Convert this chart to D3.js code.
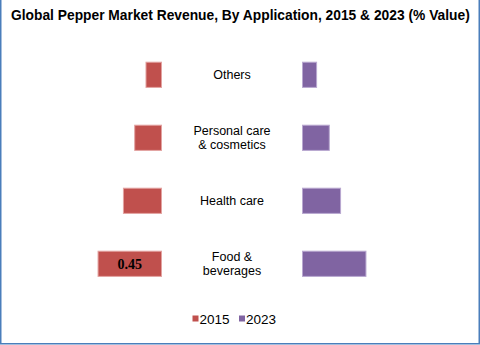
<!DOCTYPE html>
<html>
<head>
<meta charset="utf-8">
<script src="https://cdn.jsdelivr.net/npm/d3@7"></script>
<style>
html,body{margin:0;padding:0;background:#fff;}
svg{display:block;font-family:Arial,"Liberation Sans",sans-serif;}
</style>
</head>
<body>
<svg id="chart" width="480" height="345"></svg>
<script>
const categories = ["Others", "Personal care\n& cosmetics", "Health care", "Food &\nbeverages"];
const values2015 = [0.11, 0.19, 0.27, 0.45];
const values2023 = [0.10, 0.19, 0.27, 0.45];
const seriesNames = ["2015", "2023"];
const dataLabels2015 = [null, null, null, "0.45"];

const colors = {"2015": "#C0504D", "2023": "#8064A2"};
const strokes = {"2015": "#E3A3A1", "2023": "#B9A8D0"};

const svg = d3.select("#chart");
const W = 480, H = 345;

// border
svg.append("path")
  .attr("d", `M0.75,0 V${H-1.25} H${W-0.75} V0`)
  .attr("fill", "none").attr("stroke", "#4A7EBB").attr("stroke-width", 1.5);

svg.append("text")
  .attr("x", 11).attr("y", 19.5)
  .attr("font-size", "13.8px").attr("font-weight", "bold").attr("fill", "#000")
  .text("Global Pepper Market Revenue, By Application, 2015 & 2023 (% Value)");

const y = d3.scaleBand().domain(categories).range([49.6, 289]).paddingInner(0.6).paddingOuter(0.2);
const leftEnd = 161.5, rightStart = 302.5;
const xLen = d3.scaleLinear().domain([0, 0.5]).range([0, 70.5]);

const rows = categories.map((c, i) => ({c, v15: values2015[i], v23: values2023[i], lab: dataLabels2015[i]}));

svg.selectAll("rect.b15").data(rows).join("rect")
  .attr("class", "b15")
  .attr("x", d => leftEnd - xLen(d.v15))
  .attr("y", d => y(d.c))
  .attr("width", d => xLen(d.v15))
  .attr("height", y.bandwidth())
  .attr("fill", colors["2015"])
  .attr("stroke", strokes["2015"]).attr("stroke-width", 1);

svg.selectAll("rect.b23").data(rows).join("rect")
  .attr("class", "b23")
  .attr("x", rightStart)
  .attr("y", d => y(d.c))
  .attr("width", d => xLen(d.v23))
  .attr("height", y.bandwidth())
  .attr("fill", colors["2023"])
  .attr("stroke", strokes["2023"]).attr("stroke-width", 1);

// data labels
svg.selectAll("text.dl").data(rows.filter(d => d.lab)).join("text")
  .attr("class", "dl")
  .attr("x", d => leftEnd - xLen(d.v15) / 2)
  .attr("y", d => y(d.c) + y.bandwidth() / 2 + 4.8)
  .attr("text-anchor", "middle")
  .attr("font-family", "'Liberation Serif','Times New Roman',serif")
  .attr("font-weight", "bold").attr("font-size", "14px").attr("fill", "#000")
  .text(d => d.lab);

// category labels
const cx = 232;
rows.forEach(d => {
  const lines = d.c.split("\n");
  const mid = y(d.c) + y.bandwidth() / 2;
  const lh = 14.3;
  const t = svg.append("text")
    .attr("text-anchor", "middle").attr("font-size", "12.5px").attr("fill", "#000");
  lines.forEach((ln, j) => {
    t.append("tspan").attr("x", cx)
      .attr("y", mid + 4.4 + (j - (lines.length - 1) / 2) * lh)
      .text(ln);
  });
});

// legend
const legend = svg.append("g");
const legX = [192.5, 239];
seriesNames.forEach((s, i) => {
  legend.append("rect").attr("x", legX[i]).attr("y", 315.5).attr("width", 6).attr("height", 6)
    .attr("fill", colors[s]);
  legend.append("text").attr("x", legX[i] + 7).attr("y", 323.5)
    .attr("font-size", "13.5px").attr("fill", "#000").text(s);
});
</script>
</body>
</html>
